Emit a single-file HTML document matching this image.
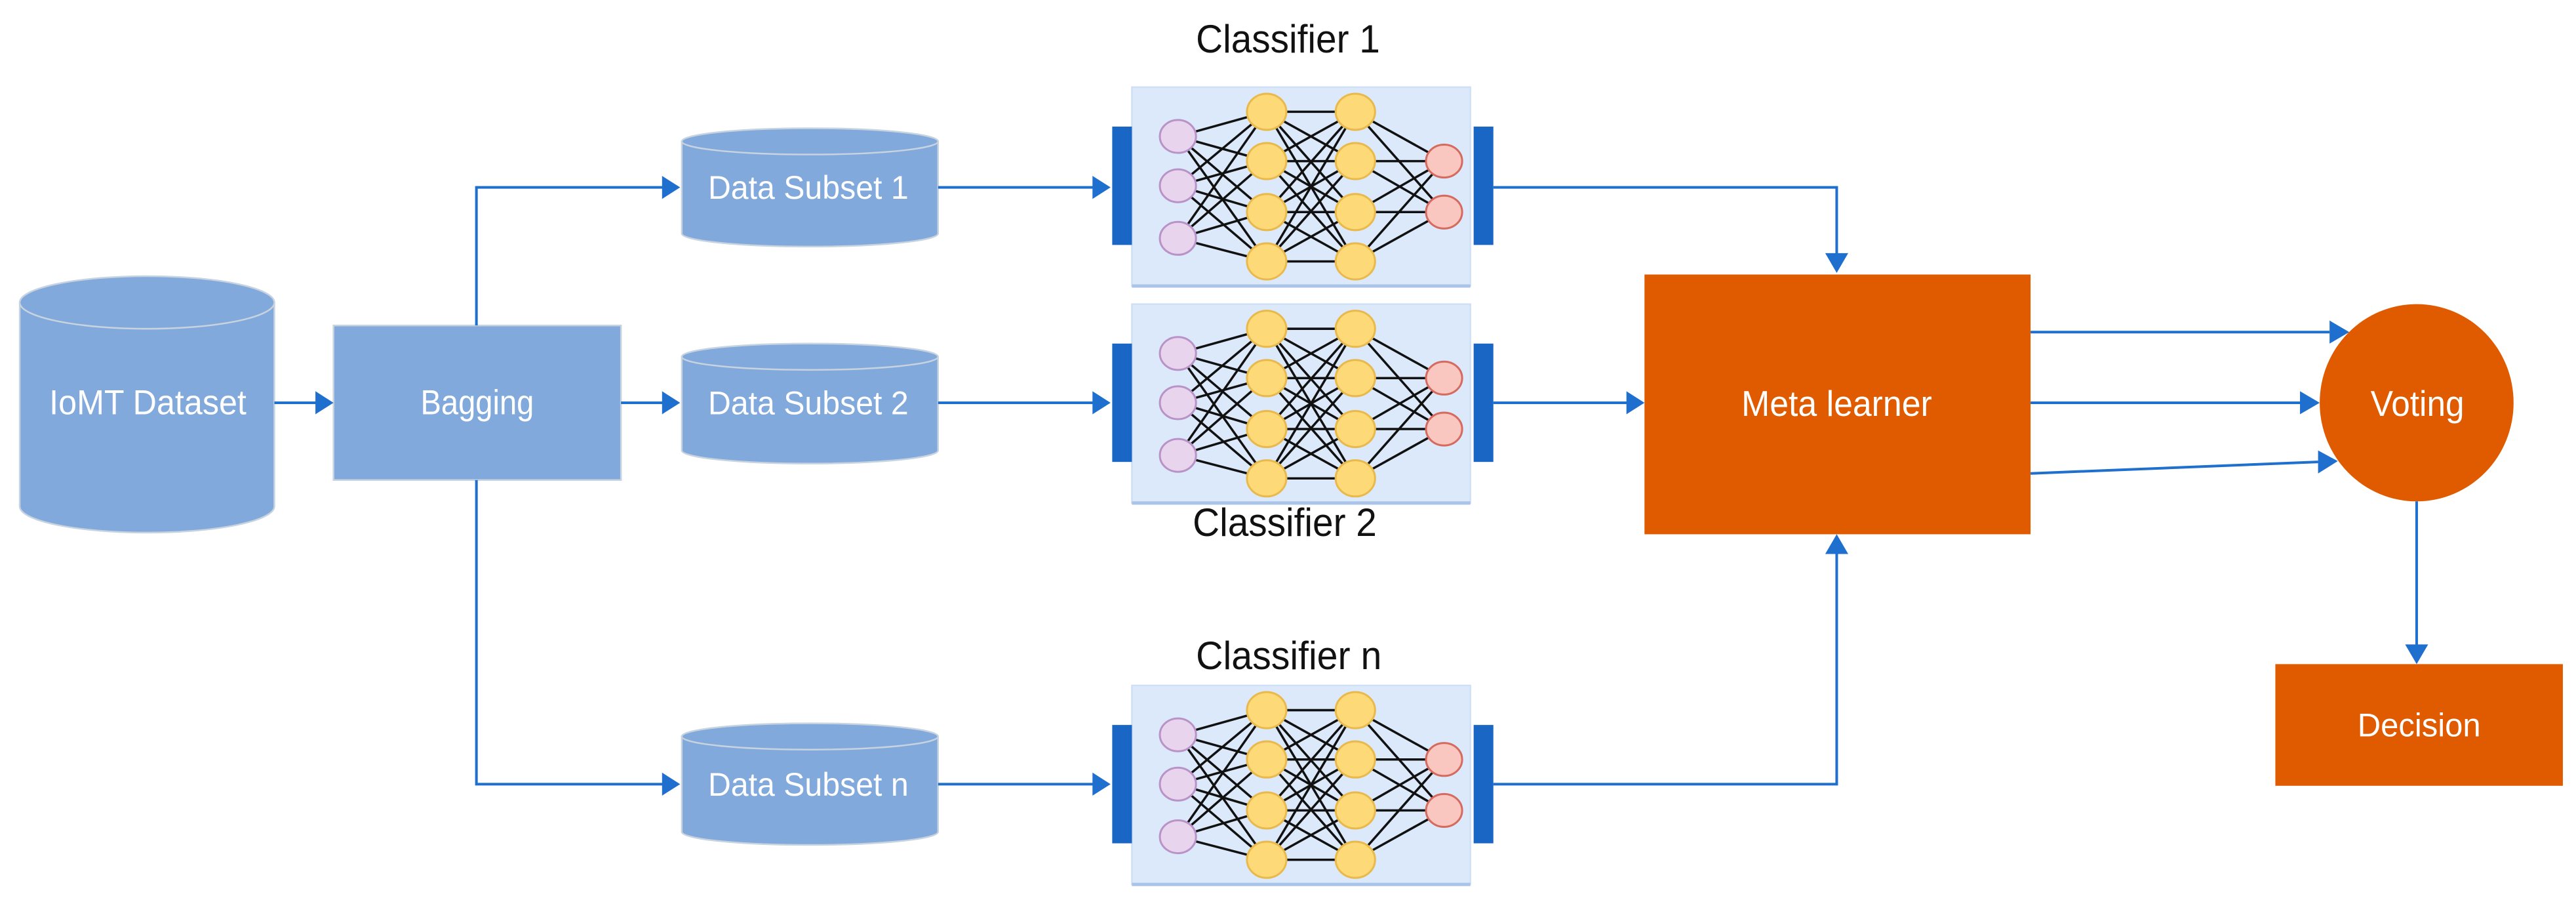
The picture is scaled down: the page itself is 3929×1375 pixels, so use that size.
<!DOCTYPE html>
<html><head><meta charset="utf-8"><style>
html,body{margin:0;padding:0;background:#fff;overflow:hidden;}
svg{display:block;}
text{font-family:"Liberation Sans",sans-serif;}
</style></head><body>
<svg width="3929" height="1375" viewBox="0 0 1568 548.7" preserveAspectRatio="none" xmlns="http://www.w3.org/2000/svg">
<defs>
<g id="clf">
  <rect x="0" y="0" width="206" height="121" fill="#dbe9fa" stroke="#cfe0f5" stroke-width="1"/>
  <line x1="0" y1="121" x2="206" y2="121" stroke="#a9c4e8" stroke-width="2"/>
  <rect x="-12" y="24" width="12" height="72" fill="#1a66c4"/>
  <rect x="208" y="24" width="12" height="72" fill="#1a66c4"/>
  <g stroke="#111" stroke-width="1.4">
    <path d="M28 30L82 15M28 30L82 45M28 30L82 76M28 30L82 106M28 60L82 15M28 60L82 45M28 60L82 76M28 60L82 106M28 92L82 15M28 92L82 45M28 92L82 76M28 92L82 106"/>
    <path d="M82 15L136 15M82 15L136 45M82 15L136 76M82 15L136 106M82 45L136 15M82 45L136 45M82 45L136 76M82 45L136 106M82 76L136 15M82 76L136 45M82 76L136 76M82 76L136 106M82 106L136 15M82 106L136 45M82 106L136 76M82 106L136 106"/>
    <path d="M136 15L190 45M136 15L190 76M136 45L190 45M136 45L190 76M136 76L190 45M136 76L190 76M136 106L190 45M136 106L190 76"/>
  </g>
  <g fill="#e8d4ec" stroke="#b993c8" stroke-width="1.2">
    <ellipse cx="28" cy="30" rx="11" ry="10"/><ellipse cx="28" cy="60" rx="11" ry="10"/><ellipse cx="28" cy="92" rx="11" ry="10"/>
  </g>
  <g fill="#fdd977" stroke="#e9b94c" stroke-width="1.2">
    <ellipse cx="82" cy="15" rx="12" ry="11"/><ellipse cx="82" cy="45" rx="12" ry="11"/><ellipse cx="82" cy="76" rx="12" ry="11"/><ellipse cx="82" cy="106" rx="12" ry="11"/>
    <ellipse cx="136" cy="15" rx="12" ry="11"/><ellipse cx="136" cy="45" rx="12" ry="11"/><ellipse cx="136" cy="76" rx="12" ry="11"/><ellipse cx="136" cy="106" rx="12" ry="11"/>
  </g>
  <g fill="#f9c6c0" stroke="#d66a5e" stroke-width="1.2">
    <ellipse cx="190" cy="45" rx="11" ry="10"/><ellipse cx="190" cy="76" rx="11" ry="10"/>
  </g>
</g>
</defs>

<!-- IoMT cylinder -->
<path d="M12 184 L12 308 A77.5 16 0 0 0 167 308 L167 184 Z" fill="#82a9dc" stroke="#c8d3e0" stroke-width="1"/>
<ellipse cx="89.5" cy="184" rx="77.5" ry="16" fill="#82a9dc" stroke="#c8d3e0" stroke-width="1"/>
<text x="30" y="252" font-size="21" fill="#fff" textLength="120" lengthAdjust="spacingAndGlyphs">IoMT Dataset</text>

<!-- Bagging -->
<rect x="203" y="198" width="175" height="94" fill="#82a9dc" stroke="#c8d3e0" stroke-width="1"/>
<text x="256" y="252" font-size="21" fill="#fff" textLength="69" lengthAdjust="spacingAndGlyphs">Bagging</text>

<!-- subsets -->
<g fill="#82a9dc" stroke="#c8d3e0" stroke-width="1">
<path d="M415 86 L415 142 A78 8 0 0 0 571 142 L571 86 Z"/><ellipse cx="493" cy="86" rx="78" ry="8"/>
<path d="M415 217 L415 274 A78 8 0 0 0 571 274 L571 217 Z"/><ellipse cx="493" cy="217" rx="78" ry="8"/>
<path d="M415 448 L415 506 A78 8 0 0 0 571 506 L571 448 Z"/><ellipse cx="493" cy="448" rx="78" ry="8"/>
</g>
<g font-size="20" fill="#fff">
<text x="431" y="121" textLength="122" lengthAdjust="spacingAndGlyphs">Data Subset 1</text>
<text x="431" y="252" textLength="122" lengthAdjust="spacingAndGlyphs">Data Subset 2</text>
<text x="431" y="484" textLength="122" lengthAdjust="spacingAndGlyphs">Data Subset n</text>
</g>

<!-- classifiers -->
<use href="#clf" x="689" y="53"/>
<use href="#clf" x="689" y="185"/>
<use href="#clf" x="689" y="417"/>
<g font-size="24" fill="#111">
<text x="728" y="32" textLength="112" lengthAdjust="spacingAndGlyphs">Classifier 1</text>
<text x="726" y="326" textLength="112" lengthAdjust="spacingAndGlyphs">Classifier 2</text>
<text x="728" y="407" textLength="113" lengthAdjust="spacingAndGlyphs">Classifier n</text>
</g>

<!-- connectors -->
<g stroke="#1f6fce" stroke-width="1.6" fill="none">
<path d="M167 245H194"/>
<path d="M378 245H405"/>
<path d="M290 198V114H405"/>
<path d="M290 292V477H405"/>
<path d="M571 114H666"/><path d="M571 245H666"/><path d="M571 477H666"/>
<path d="M909 114H1118V156"/>
<path d="M909 245H991"/>
<path d="M909 477H1118V336"/>
<path d="M1236 202H1418"/>
<path d="M1236 245H1401"/>
<path d="M1236 288L1411 281"/>
<path d="M1471 305V393"/>
</g>
<g fill="#1f6fce">
<path d="M203 245L192 238V252Z"/>
<path d="M414 245L403 238V252Z"/>
<path d="M414 114L403 107V121Z"/>
<path d="M414 477L403 470V484Z"/>
<path d="M676 114L665 107V121Z"/>
<path d="M676 245L665 238V252Z"/>
<path d="M676 477L665 470V484Z"/>
<path d="M1118 166L1111 154H1125Z"/>
<path d="M1001 245L990 238V252Z"/>
<path d="M1118 325L1111 337H1125Z"/>
<path d="M1430 202L1418 195V209Z"/>
<path d="M1412 245L1400 238V252Z"/>
<path d="M1423 280.5L1411 274V288Z"/>
<path d="M1471 404L1464 392H1478Z"/>
</g>

<!-- Meta learner -->
<rect x="1001" y="167" width="235" height="158" fill="#e05a00"/>
<text x="1060" y="253" font-size="22" fill="#fff" textLength="116" lengthAdjust="spacingAndGlyphs">Meta learner</text>

<!-- Voting -->
<ellipse cx="1471" cy="245" rx="59" ry="60" fill="#e05a00"/>
<text x="1443" y="253" font-size="22" fill="#fff" textLength="57" lengthAdjust="spacingAndGlyphs">Voting</text>

<!-- Decision -->
<rect x="1385" y="404" width="175" height="74" fill="#e05a00"/>
<text x="1435" y="448" font-size="20" fill="#fff" textLength="75" lengthAdjust="spacingAndGlyphs">Decision</text>
</svg>
</body></html>
